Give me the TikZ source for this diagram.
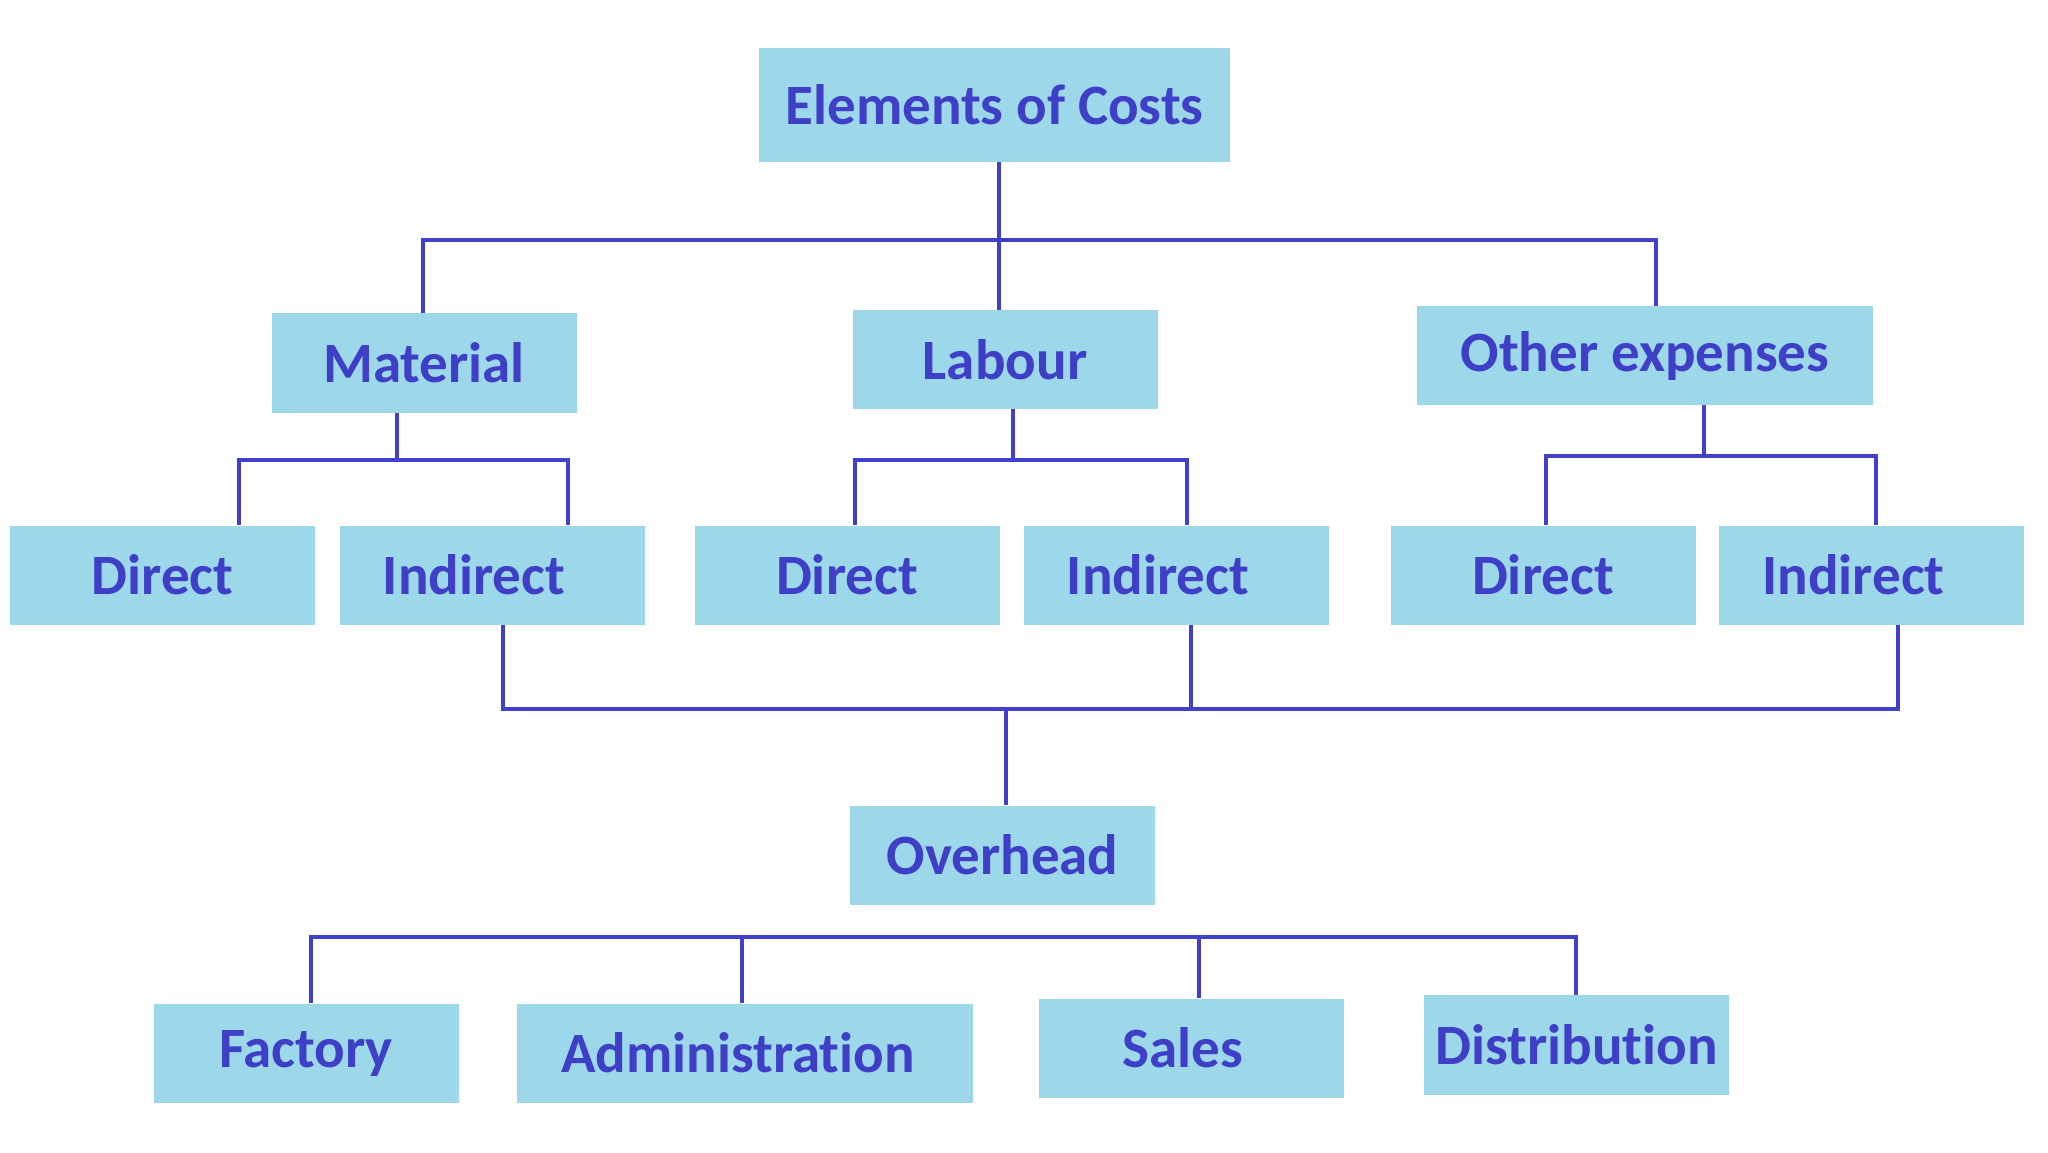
\documentclass[tikz,border=0pt]{standalone}
\usepackage{fontspec}
\setmainfont{Carlito}[Ligatures={NoCommon}]
\definecolor{boxfill}{RGB}{157,216,234}
\definecolor{ink}{RGB}{62,62,198}
\definecolor{wire}{RGB}{64,64,204}
\tikzset{
  box/.style={fill=boxfill, draw=none, inner sep=0pt, minimum width=305pt, minimum height=99pt,
    text=ink, font=\fontsize{57}{62}\selectfont\bfseries},
  conn/.style={draw=wire, line width=3.5pt}
}
\begin{document}
\begin{tikzpicture}[x=1pt,y=-1pt]
\useasboundingbox[fill=white] (0,0) rectangle (2048,1152);
% nodes
\node[box, minimum width=471pt, minimum height=114pt] (root) at (994.5,105) {Elements of Costs};
\node[box, minimum height=100pt] (mat) at (424,363) {Material};
\node[box] (lab) at (1005,359.5) {Labour};
\node[box, minimum width=456pt] (oth) at (1645,355.5) {Other expenses};
\node[box] (d1) at (162.5,575) {Direct};
\node[box] (i1) at (492,575) {Indirect\hspace*{36pt}};
\node[box] (d2) at (847,575) {Direct};
\node[box] (i2) at (1176,575) {Indirect\hspace*{36pt}};
\node[box] (d3) at (1543,575) {Direct};
\node[box] (i3) at (1871.5,575) {Indirect\hspace*{36pt}};
\node[box] (ovh) at (1002.5,855) {Overhead};
\node[box] (fac) at (306,1053) {Factory};
\node[box, minimum width=456pt] (adm) at (745,1053) {Administ\kern0ptration\hspace*{14pt}};
\node[box] (sal) at (1191,1048) {Sales\hspace*{16pt}};
\node[box, minimum height=100pt] (dis) at (1576.5,1045) {Distribution};
% bus coordinates
\coordinate (b0) at (999,240);
\coordinate (bm) at (423,240);
\coordinate (bo) at (1656,240);
\coordinate (m0) at (397,460);
\coordinate (ml) at (239,460);
\coordinate (mr) at (568,460);
\coordinate (l0) at (1013,460);
\coordinate (ll) at (855,460);
\coordinate (lr) at (1187,460);
\coordinate (o0) at (1704,456);
\coordinate (ol) at (1546,456);
\coordinate (or) at (1876,456);
\coordinate (u1) at (503,709);
\coordinate (u2) at (1191,709);
\coordinate (u3) at (1898,709);
\coordinate (uo) at (1006,709);
\coordinate (f1) at (311,937);
\coordinate (f2) at (742,937);
\coordinate (f3) at (1199,937);
\coordinate (f4) at (1576,937);
% connectors
\draw[conn] (root.south -| b0) -- (b0);
\draw[conn] (mat.north -| bm) -- (bm) -- (bo) -- (oth.north -| bo);
\draw[conn] (lab.north -| b0) -- (b0);
\draw[conn] (mat.south -| m0) -- (m0);
\draw[conn] (d1.north -| ml) -- (ml) -- (mr) -- (i1.north -| mr);
\draw[conn] (lab.south -| l0) -- (l0);
\draw[conn] (d2.north -| ll) -- (ll) -- (lr) -- (i2.north -| lr);
\draw[conn] (oth.south -| o0) -- (o0);
\draw[conn] (d3.north -| ol) -- (ol) -- (or) -- (i3.north -| or);
\draw[conn] (i1.south -| u1) -- (u1) -- (u3) -- (i3.south -| u3);
\draw[conn] (i2.south -| u2) -- (u2);
\draw[conn] (uo) -- (ovh.north -| uo);
\draw[conn] (fac.north -| f1) -- (f1) -- (f4) -- (dis.north -| f4);
\draw[conn] (adm.north -| f2) -- (f2);
\draw[conn] (sal.north -| f3) -- (f3);
\end{tikzpicture}
\end{document}
